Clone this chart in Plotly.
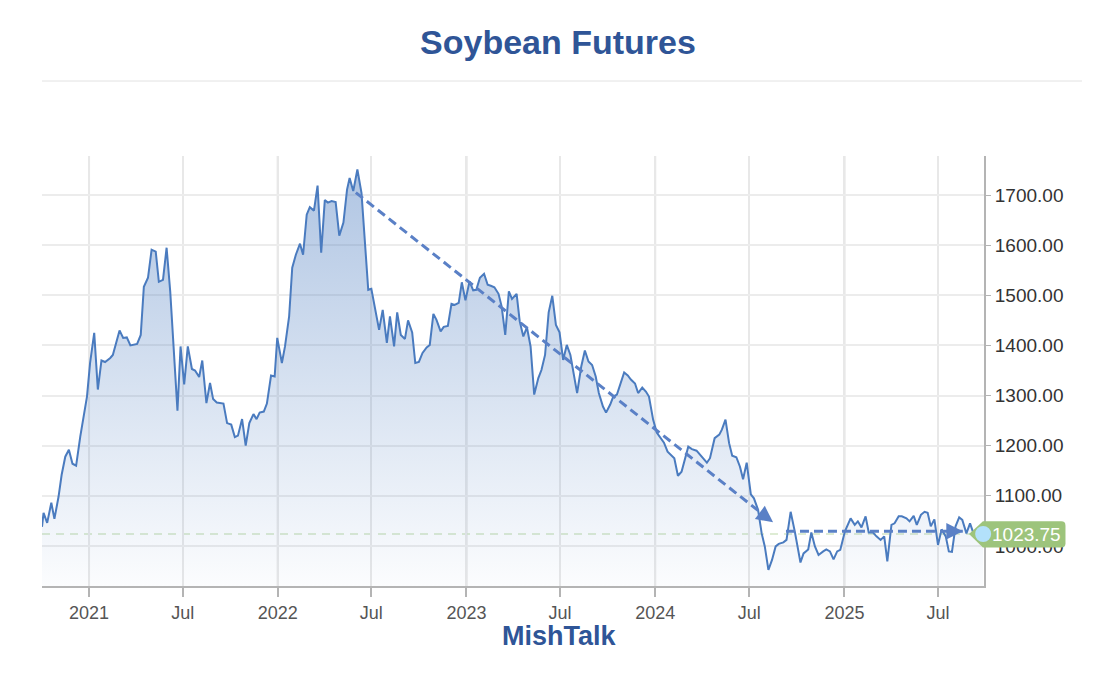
import plotly.graph_objects as go

# ---------------- data (weekly closes) ----------------
dates = [
    "2020-10-02", "2020-10-05", "2020-10-12", "2020-10-20", "2020-10-26", "2020-11-03", "2020-11-09",
    "2020-11-16", "2020-11-23", "2020-11-30", "2020-12-07", "2020-12-15", "2020-12-28",
    "2021-01-03", "2021-01-11", "2021-01-18", "2021-01-25", "2021-02-01", "2021-02-11", "2021-02-16",
    "2021-03-01", "2021-03-08", "2021-03-15", "2021-03-22", "2021-04-04", "2021-04-11", "2021-04-17",
    "2021-04-25", "2021-05-02", "2021-05-10", "2021-05-16", "2021-05-24", "2021-05-31", "2021-06-07",
    "2021-06-21", "2021-06-27", "2021-07-04", "2021-07-11", "2021-07-19", "2021-07-25", "2021-08-02",
    "2021-08-08", "2021-08-16", "2021-08-23", "2021-08-29", "2021-09-05", "2021-09-18", "2021-09-25",
    "2021-10-03", "2021-10-10", "2021-10-16", "2021-10-24", "2021-10-31", "2021-11-07", "2021-11-15",
    "2021-11-21", "2021-11-27", "2021-12-05", "2021-12-11", "2021-12-19", "2021-12-26", "2021-12-31",
    "2022-01-09", "2022-01-15", "2022-01-23", "2022-01-29", "2022-02-05", "2022-02-13", "2022-02-19",
    "2022-02-26", "2022-03-04", "2022-03-12", "2022-03-19", "2022-03-26", "2022-04-02", "2022-04-08",
    "2022-04-15", "2022-04-23", "2022-04-30", "2022-05-08", "2022-05-15", "2022-05-20", "2022-05-27",
    "2022-06-04", "2022-06-12", "2022-06-25", "2022-07-01", "2022-07-08", "2022-07-16", "2022-07-23",
    "2022-07-31", "2022-08-06", "2022-08-14", "2022-08-20", "2022-08-27", "2022-09-04", "2022-09-10",
    "2022-09-18", "2022-09-24", "2022-10-01", "2022-10-08", "2022-10-16", "2022-10-22", "2022-10-29",
    "2022-11-04", "2022-11-12", "2022-11-18", "2022-11-26", "2022-12-03", "2022-12-09", "2022-12-17",
    "2022-12-23", "2022-12-30", "2023-01-07", "2023-01-14", "2023-01-20", "2023-01-27", "2023-02-04",
    "2023-02-11", "2023-02-17", "2023-02-24", "2023-03-04", "2023-03-10", "2023-03-17", "2023-03-24",
    "2023-03-30", "2023-04-08", "2023-04-14", "2023-04-21", "2023-04-28", "2023-05-05", "2023-05-12",
    "2023-05-20", "2023-05-26", "2023-06-02", "2023-06-09", "2023-06-16", "2023-06-23", "2023-06-30",
    "2023-07-07", "2023-07-14", "2023-07-21", "2023-07-28", "2023-08-03", "2023-08-11", "2023-08-18",
    "2023-08-25", "2023-09-01", "2023-09-08", "2023-09-14", "2023-09-22", "2023-09-28", "2023-10-06",
    "2023-10-12", "2023-10-19", "2023-10-26", "2023-11-02", "2023-11-09", "2023-11-15", "2023-11-23",
    "2023-11-29", "2023-12-07", "2023-12-14", "2023-12-20", "2023-12-28", "2024-01-04", "2024-01-11",
    "2024-01-18", "2024-01-25", "2024-02-07", "2024-02-14", "2024-02-21", "2024-03-05", "2024-03-12",
    "2024-03-21", "2024-03-31", "2024-04-10", "2024-04-16", "2024-04-25", "2024-05-04", "2024-05-09",
    "2024-05-16", "2024-05-23", "2024-05-29", "2024-06-06", "2024-06-13", "2024-06-19", "2024-06-26",
    "2024-07-04", "2024-07-10", "2024-07-18", "2024-07-25", "2024-07-31", "2024-08-07", "2024-08-14",
    "2024-08-21", "2024-08-27", "2024-09-05", "2024-09-11", "2024-09-19", "2024-09-27", "2024-10-08",
    "2024-10-14", "2024-10-23", "2024-10-29", "2024-11-05", "2024-11-12", "2024-11-21", "2024-11-27",
    "2024-12-04", "2024-12-11", "2024-12-18", "2024-12-24", "2025-01-02", "2025-01-13", "2025-01-21",
    "2025-01-27", "2025-02-03", "2025-02-11", "2025-02-17", "2025-02-25", "2025-03-04", "2025-03-12",
    "2025-03-19", "2025-03-25", "2025-04-02", "2025-04-08", "2025-04-16", "2025-04-22", "2025-05-01",
    "2025-05-07", "2025-05-15", "2025-05-21", "2025-05-29", "2025-06-05", "2025-06-11", "2025-06-17",
    "2025-06-24", "2025-07-01", "2025-07-08", "2025-07-16", "2025-07-22", "2025-07-28", "2025-08-04",
    "2025-08-11", "2025-08-17", "2025-08-25", "2025-09-01", "2025-09-07", "2025-09-26",
]
prices = [
    1038, 1066, 1046, 1086, 1054, 1098, 1142,
    1178, 1192, 1164, 1160, 1218, 1298,
    1365, 1425, 1312, 1370, 1367, 1375, 1381,
    1430, 1415, 1416, 1400, 1403, 1421, 1517,
    1535, 1591, 1587, 1527, 1531, 1595, 1508,
    1270, 1398, 1322, 1398, 1353, 1350, 1337,
    1370, 1285, 1325, 1293, 1286, 1284, 1245,
    1242, 1217, 1220, 1253, 1200, 1245, 1263,
    1253, 1266, 1268, 1284, 1340, 1338, 1415,
    1365, 1398, 1458, 1555, 1581, 1603, 1581,
    1661, 1676, 1669, 1719, 1585, 1690, 1685,
    1688, 1686, 1619, 1645, 1711, 1734, 1708,
    1751, 1704, 1511, 1513, 1471, 1431, 1471,
    1405, 1458, 1398, 1466, 1421, 1413, 1450,
    1426, 1365, 1367, 1385, 1396, 1401, 1463,
    1451, 1428, 1437, 1439, 1483, 1481, 1485,
    1526, 1490, 1528, 1510, 1511, 1535, 1543,
    1521, 1519, 1516, 1503, 1478, 1421, 1508,
    1493, 1503, 1448, 1418, 1436, 1398, 1302,
    1335, 1351, 1381, 1466, 1499, 1441, 1426,
    1371, 1401, 1381, 1335, 1305, 1358, 1390,
    1368, 1361, 1338, 1305, 1278, 1266, 1282,
    1298, 1302, 1325, 1346, 1340, 1332, 1324,
    1305, 1316, 1308, 1298, 1252, 1226, 1216,
    1206, 1188, 1175, 1140, 1148, 1198, 1193,
    1190, 1177, 1166, 1175, 1215, 1222, 1232,
    1252, 1205, 1180, 1177, 1158, 1133, 1166,
    1103, 1095, 1072, 1025, 999, 952, 972,
    999, 1004, 1007, 1012, 1068, 1029, 967,
    985, 993, 1027, 999, 982, 989, 993,
    989, 973, 989, 992, 1029, 1055, 1042,
    1049, 1037, 1059, 1027, 1027, 1019, 1012,
    1019, 969, 1042, 1045, 1059, 1059, 1055,
    1049, 1060, 1042, 1062, 1068, 1066, 1039,
    1053, 1002, 1033, 1019, 989, 988, 1039,
    1057, 1052, 1025, 1045, 1027, 1023.75,
]

last_date = dates[-1]
last_price = prices[-1]

x_tick_vals = ["2021-01-01", "2021-07-01", "2022-01-01", "2022-07-01", "2023-01-01",
               "2023-07-01", "2024-01-01", "2024-07-01", "2025-01-01", "2025-07-01"]
x_tick_text = ["2021", "Jul", "2022", "Jul", "2023", "Jul", "2024", "Jul", "2025", "Jul"]
year_starts = ["2021-01-01", "2022-01-01", "2023-01-01", "2024-01-01", "2025-01-01"]
y_tick_vals = [1000, 1100, 1200, 1300, 1400, 1500, 1600, 1700]

# trend arrows (annotations drawn on the chart)
trend1 = (["2022-06-01", "2024-08-16"], [1705, 1047])
trend2 = (["2024-09-10", "2025-08-18"], [1029, 1029])

TITLE = "Soybean Futures"
SOURCE = "MishTalk"

# ---------------- styles ----------------
BLUE_TXT = "#2f5597"
LINE = "#4a7bbf"
ARROW = "#5a80c6"
GREEN = "#9dc47c"
FONT = "Liberation Sans, Arial, sans-serif"

Y_MIN, Y_MAX = 920, 1778

fig = go.Figure()

fig.add_trace(go.Scatter(
    x=dates, y=prices, mode="lines",
    line=dict(color=LINE, width=2),
    fill="tozeroy",
    fillgradient=dict(type="vertical",
                      colorscale=[[0, "rgba(74,123,191,0.02)"], [1, "rgba(74,123,191,0.44)"]],
                      start=Y_MIN, stop=1755),
    hoverinfo="skip", showlegend=False,
))

# dashed trend lines
for tx, ty in (trend1, trend2):
    fig.add_trace(go.Scatter(x=tx, y=ty, mode="lines",
                             line=dict(color=ARROW, width=3, dash="9px,5px"),
                             hoverinfo="skip", showlegend=False))

# arrow heads
fig.add_annotation(x=trend1[0][1], y=trend1[1][1], ax=-12, ay=-9, text="",
                   showarrow=True, arrowhead=2, arrowsize=1.1, arrowwidth=3, arrowcolor=ARROW)
fig.add_annotation(x=trend2[0][1], y=trend2[1][1], ax=-15, ay=0, text="",
                   showarrow=True, arrowhead=2, arrowsize=1.1, arrowwidth=3, arrowcolor=ARROW)

# darker year grid lines
for ys in year_starts:
    fig.add_shape(type="line", xref="x", x0=ys, x1=ys, yref="paper", y0=0, y1=1,
                  line=dict(color="#dadada", width=2), layer="below")

# last price reference line
fig.add_shape(type="line", xref="paper", x0=0, x1=1, yref="y", y0=last_price, y1=last_price,
              line=dict(color="#d4e6c6", width=1.5, dash="8px,6px"), layer="below")

# price label (green pointer box) + marker circle, placed in paper space
yc = (last_price - Y_MIN) / (Y_MAX - Y_MIN)
tip_x, bx0, bx1 = 0.9841, 0.9989, 1.0865
by0, by1 = yc - 0.0315, yc + 0.0295
rx, ry = 0.0045, 0.0095
label_path = (f"M {tip_x},{yc} L {bx0},{by1} L {bx1 - rx},{by1} Q {bx1},{by1} {bx1},{by1 - ry} "
              f"L {bx1},{by0 + ry} Q {bx1},{by0} {bx1 - rx},{by0} L {bx0},{by0} Z")
fig.add_shape(type="path", xref="paper", yref="paper", path=label_path,
              fillcolor=GREEN, line=dict(width=0), layer="above")
fig.add_shape(type="circle", xref="paper", yref="paper",
              x0=0.9906, x1=1.0076, y0=yc - 0.0186, y1=yc + 0.0186,
              fillcolor="#b3e1fb", line=dict(width=0), layer="above")
fig.add_annotation(xref="paper", x=1.0068, yref="paper", y=yc, xanchor="left", yanchor="middle",
                   text=f"{last_price:.2f}", showarrow=False,
                   font=dict(family=FONT, size=19, color="white"))

# title underline
fig.add_shape(type="line", xref="paper", yref="paper", x0=0, x1=1.104, y0=1.1744, y1=1.1744,
              line=dict(color="#e2e2e2", width=1))

fig.add_annotation(xref="paper", yref="paper", x=0.549, y=-0.116, text=f"<b>{SOURCE}</b>",
                   showarrow=False, xanchor="center", yanchor="middle",
                   font=dict(family=FONT, size=27, color=BLUE_TXT))

fig.update_layout(
    width=1116, height=689,
    margin=dict(l=42, r=132, t=156, b=103),
    paper_bgcolor="white", plot_bgcolor="white",
    title=dict(text=f"<b>{TITLE}</b>", x=0.5, xref="container", xanchor="center",
               y=1 - 42 / 689, yref="container", yanchor="middle",
               font=dict(family=FONT, size=34, color=BLUE_TXT)),
    font=dict(family=FONT),
    showlegend=False,
    xaxis=dict(type="date", range=["2020-10-02", "2025-09-28"],
               tickvals=x_tick_vals, ticktext=x_tick_text,
               showgrid=True, gridcolor="#e8e8e8", gridwidth=2,
               showline=True, linecolor="#b4b4b4", linewidth=2,
               ticks="outside", ticklen=9, tickcolor="#b4b4b4", tickwidth=2,
               tickfont=dict(family=FONT, size=18, color="#555555"),
               zeroline=False, fixedrange=True),
    yaxis=dict(side="right", range=[Y_MIN, Y_MAX], tickvals=y_tick_vals, tickformat=".2f",
               showgrid=True, gridcolor="#ececec", gridwidth=2,
               showline=True, linecolor="#b4b4b4", linewidth=2,
               ticks="outside", ticklen=5, tickcolor="#b4b4b4", tickwidth=1,
               tickfont=dict(family=FONT, size=19, color="#333333"),
               zeroline=False, fixedrange=True),
)

fig.write_html("out.html")
